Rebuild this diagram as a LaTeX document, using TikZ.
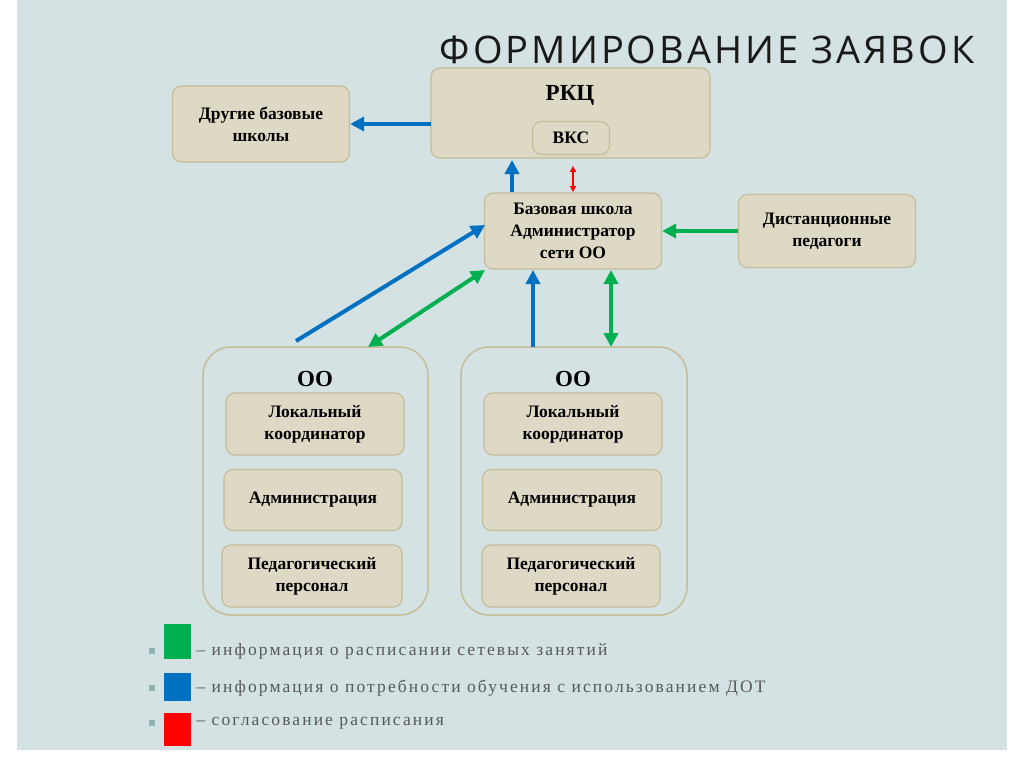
\documentclass[tikz,border=0pt]{standalone}
\usepackage{fontspec}
\setmainfont{Liberation Serif}
\newfontfamily\titlefont[LetterSpace=8]{Open Sans}
\newfontfamily\legfont[LetterSpace=12]{Liberation Serif}
\usetikzlibrary{arrows.meta}
\definecolor{bg}{HTML}{D4E2E3}
\definecolor{boxf}{HTML}{DDD9C4}
\definecolor{boxd}{HTML}{C4BD97}
\definecolor{bl}{HTML}{0070C0}
\definecolor{gr}{HTML}{00B050}
\definecolor{rd}{HTML}{FF0000}
\definecolor{bul}{HTML}{8FB3B0}
\tikzset{
 bx/.style={draw=boxd, fill=boxf, line width=1.2pt, rounded corners=9pt, align=center, font=\bfseries\fontsize{17.5}{22}\selectfont},
 big/.style={draw=boxd, line width=1.5pt, rounded corners=28pt},
 ar/.style={line width=4pt, -{Triangle[length=14pt,width=14pt]}},
 dar/.style={line width=4pt, {Triangle[length=14pt,width=14pt]}-{Triangle[length=14pt,width=14pt]}},
 leg/.style={anchor=west, text=black!65, font=\legfont\fontsize{17.5}{20}\selectfont},
 sq/.style={draw=none, fill=bul, minimum size=6pt, inner sep=0pt}
}
\begin{document}
\begin{tikzpicture}[x=1pt,y=-1pt]
\useasboundingbox (0,0) rectangle (1024,768);
\fill[bg] (17,0) rectangle (1007,750);
\node[anchor=east, font=\titlefont\fontsize{38}{40}\selectfont, text=black!90] (title) at (978,50) {ФОРМИРОВАНИЕ ЗАЯВОК};
% RKC
\draw[bx] (431,68) rectangle (710,158);
\node[font=\bfseries\fontsize{23}{26}\selectfont] (rkct) at (570,95) {РКЦ};
\node[bx, minimum width=77pt, minimum height=33pt] (vks) at (571,138) {ВКС};
\coordinate (rkcL) at (431,124);
\node[bx, minimum width=177pt, minimum height=76pt] (drug) at (261,124) {Другие базовые\\школы};
\node[bx, minimum width=177pt, minimum height=76pt] (baz) at (573,231) {Базовая школа\\Администратор\\сети ОО};
\node[bx, minimum width=177pt, minimum height=73pt] (dist) at (827,231) {Дистанционные\\педагоги};
% OO left
\draw[big] (203,347) rectangle (428,615);
\node[font=\bfseries\fontsize{23}{26}\selectfont] (oo1) at (315,379) {ОО};
\node[bx, minimum width=178pt, minimum height=62pt] (l1) at (315,424) {Локальный\\координатор};
\node[bx, minimum width=178pt, minimum height=61pt] (a1) at (313,500) {Администрация};
\node[bx, minimum width=180pt, minimum height=62pt] (p1) at (312,576) {Педагогический\\персонал};
% OO right
\draw[big] (461,347) rectangle (687,615);
\node[font=\bfseries\fontsize{23}{26}\selectfont] (oo2) at (573,379) {ОО};
\node[bx, minimum width=178pt, minimum height=62pt] (l2) at (573,424) {Локальный\\координатор};
\node[bx, minimum width=179pt, minimum height=61pt] (a2) at (572,500) {Администрация};
\node[bx, minimum width=178pt, minimum height=62pt] (p2) at (571,576) {Педагогический\\персонал};
% arrows
\draw[ar, bl] (rkcL) -- (drug.east);
\draw[ar, bl] (512,192) -- (512,160);
\draw[rd, line width=1.3pt, {Triangle[length=6pt,width=6pt]}-{Triangle[length=6pt,width=6pt]}] (573,166) -- (573,192);
\draw[ar, gr] (dist.west) -- (baz.east |- dist.west);
\coordinate (b1s) at (296,341);
\draw[ar, bl] (b1s) -- (485,225);
\coordinate (g1s) at (368,347);
\draw[dar, gr] (g1s) -- (485,270);
\coordinate (b2s) at (533,347);
\draw[ar, bl] (b2s) -- (533,270);
\coordinate (g2s) at (611,347);
\draw[dar, gr] (g2s) -- (611,270);
% legend
\node[sq] (s1) at (152,651) {};
\node[sq] (s2) at (152,688) {};
\node[sq] (s3) at (152,723) {};
\fill[gr] (164,624) rectangle (191,659);
\fill[bl] (164,673) rectangle (191,701);
\fill[rd] (164,713) rectangle (191,746);
\node[leg] (t1) at (193,651) {– информация о расписании сетевых занятий};
\node[leg] (t2) at (193,688) {– информация о потребности обучения с использованием ДОТ};
\node[leg] (t3) at (193,723) {– согласование расписания};
\end{tikzpicture}
\end{document}
